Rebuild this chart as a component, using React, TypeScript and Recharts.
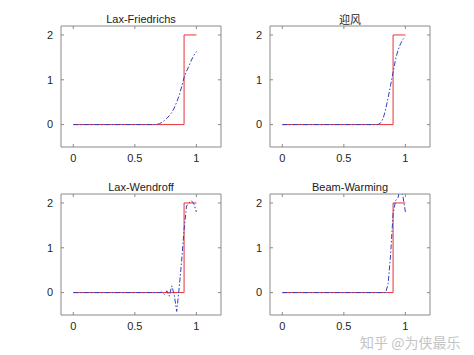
import { LineChart, Line, XAxis, YAxis } from "recharts";

const xTicks = [0, 0.5, 1];
const yTicks = [0, 1, 2];

// exact solution: step at x = 0.9
const exactX = [0, 0.9, 0.9, 1];
const exactU = [0, 0, 2, 2];

// Lax-Friedrichs
const lfX = [0, 0.66, 0.68, 0.7, 0.72, 0.74, 0.76, 0.78, 0.8, 0.82, 0.84, 0.86, 0.88, 0.9, 0.92, 0.94, 0.96, 0.98, 1];
const lfU = [0, 0, 0.005, 0.02, 0.05, 0.09, 0.14, 0.2, 0.27, 0.37, 0.5, 0.65, 0.84, 1.05, 1.19, 1.31, 1.44, 1.55, 1.63];

// 迎风 (upwind)
const upX = [0, 0.76, 0.78, 0.8, 0.82, 0.84, 0.86, 0.88, 0.9, 0.92, 0.94, 0.96, 0.98, 1];
const upU = [0, 0, 0.005, 0.04, 0.14, 0.35, 0.6, 0.88, 1.17, 1.45, 1.66, 1.8, 1.9, 1.96];

// Lax-Wendroff
const lwX = [0, 0.7, 0.72, 0.74, 0.76, 0.78, 0.8, 0.82, 0.84, 0.86, 0.88, 0.9, 0.92, 0.94, 0.96, 0.98, 1];
const lwU = [0, 0, 0.01, -0.04, 0.04, -0.08, 0.15, -0.05, -0.42, 0.1, 0.7, 1.4, 1.93, 2.0, 2.05, 1.98, 1.8];

// Beam-Warming
const bwX = [0, 0.84, 0.86, 0.88, 0.9, 0.92, 0.94, 0.96, 0.98, 1];
const bwU = [0, 0, 0.2, 0.85, 1.75, 2.05, 2.12, 2.35, 2.15, 1.8];

const zip = (xs: number[], us: number[]) => xs.map((x, i) => ({ x, u: us[i] }));

const panels = [
  { title: "Lax-Friedrichs", xs: lfX, us: lfU, left: 0, top: 0, cjk: false },
  { title: "迎风", xs: upX, us: upU, left: 209, top: 0, cjk: true },
  { title: "Lax-Wendroff", xs: lwX, us: lwU, left: 0, top: 168, cjk: false },
  { title: "Beam-Warming", xs: bwX, us: bwU, left: 209, top: 168, cjk: false },
];

const FONT = '"Liberation Sans", Arial, sans-serif';
const BOX = "#8a8a8a";
const W = 237;
const H = 177;
// axes take 1px each, so plot area = 61..221 x 26..147
const margin = { top: 25, right: 15, bottom: 29, left: 60 };

const noTick = () => <g />;

function Panel({ title, xs, us, cjk }: { title: string; xs: number[]; us: number[]; cjk: boolean }) {
  return (
    <div style={{ position: "relative", width: W, height: H }}>
      <div
        style={{
          position: "absolute",
          left: 61,
          width: 160,
          top: 13,
          textAlign: "center",
          fontFamily: cjk ? '"Noto Sans CJK SC", sans-serif' : FONT,
          fontSize: 11,
          lineHeight: "12px",
          color: "#1a1a1a",
        }}
      >
        {title}
      </div>
      <LineChart width={W} height={H} margin={margin}>
        <XAxis
          xAxisId="b"
          type="number"
          dataKey="x"
          domain={[-0.1, 1.2]}
          ticks={xTicks}
          allowDataOverflow
          height={1}
          stroke={BOX}
          tickSize={-3}
          tickMargin={10}
          tick={{ fill: "#262626", fontSize: 11, fontFamily: FONT }}
        />
        <XAxis
          xAxisId="t"
          orientation="top"
          type="number"
          dataKey="x"
          domain={[-0.1, 1.2]}
          ticks={xTicks}
          allowDataOverflow
          height={1}
          stroke={BOX}
          tickSize={-3}
          tick={noTick}
        />
        <YAxis
          yAxisId="l"
          type="number"
          domain={[-0.5, 2.2]}
          ticks={yTicks}
          allowDataOverflow
          width={1}
          stroke={BOX}
          tickSize={-3}
          tickMargin={11}
          tick={{ fill: "#262626", fontSize: 11, fontFamily: FONT }}
        />
        <YAxis
          yAxisId="r"
          orientation="right"
          type="number"
          domain={[-0.5, 2.2]}
          ticks={yTicks}
          allowDataOverflow
          width={1}
          stroke={BOX}
          tickSize={-3}
          tick={noTick}
        />
        <Line
          xAxisId="b"
          yAxisId="l"
          data={zip(exactX, exactU)}
          dataKey="u"
          type="linear"
          stroke="#e8333a"
          strokeWidth={1}
          dot={false}
          isAnimationActive={false}
        />
        <Line
          xAxisId="b"
          yAxisId="l"
          data={zip(xs, us)}
          dataKey="u"
          type="linear"
          stroke="#3040c0"
          strokeWidth={1}
          strokeDasharray="5 2 1.5 2"
          dot={false}
          isAnimationActive={false}
        />
      </LineChart>
    </div>
  );
}

export default function App() {
  return (
    <div style={{ position: "absolute", left: 0, top: 0, width: 474, height: 355, background: "#fff" }}>
      {panels.map((p) => (
        <div key={p.title} style={{ position: "absolute", left: p.left, top: p.top }}>
          <Panel title={p.title} xs={p.xs} us={p.us} cjk={p.cjk} />
        </div>
      ))}
      <div
        style={{
          position: "absolute",
          left: 360,
          top: 335,
          fontFamily: '"Noto Sans CJK SC", sans-serif',
          fontSize: 14,
          lineHeight: "14px",
          color: "#c4c4c4",
          whiteSpace: "nowrap",
        }}
      >
        知乎 @为侠最乐
      </div>
    </div>
  );
}
